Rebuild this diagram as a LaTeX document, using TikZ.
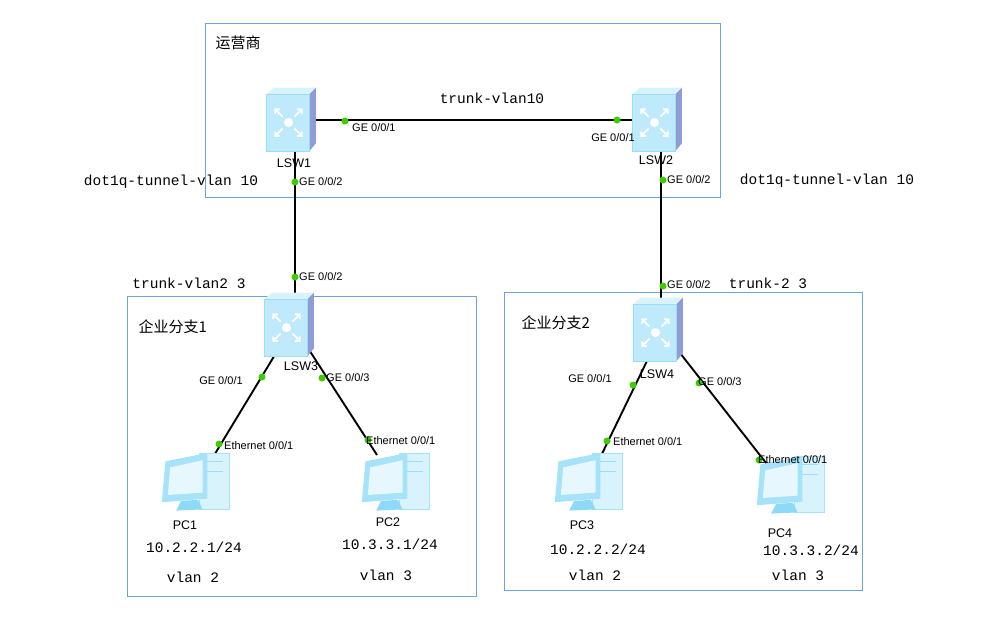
\documentclass[tikz,border=0pt]{standalone}
\usepackage{fontspec}
\setmainfont{Liberation Sans}
\newfontfamily\monof{Liberation Mono}
\newfontfamily\cjk{Noto Sans CJK SC}
\begin{document}
\begin{tikzpicture}[x=1pt,y=-1pt,
  box/.style={draw=cyan!60!blue!60, line width=0.8pt},
  link/.style={line width=1.9pt, black},
  dot/.style={circle, fill=green!60!lime!80!black, inner sep=0pt, minimum size=7pt},
  port/.style={font=\fontsize{11}{12}\selectfont, inner sep=1pt},
  mono/.style={font=\monof\fontsize{14.5}{16}\selectfont, inner sep=1pt},
  dev/.style={font=\fontsize{12.5}{14}\selectfont, inner sep=1pt},
  title/.style={font=\cjk\fontsize{15}{17}\selectfont, anchor=west}]
\useasboundingbox (0,0) rectangle (991,622);
\tikzset{
 sw/.pic={
  \fill[cyan!30!blue!45] (11,-20) -- (16,-25) -- (16,18) -- (11,24) -- cycle;
  \fill[cyan!15] (-22,-20) -- (-16,-25) -- (16,-25) -- (11,-20) -- cycle;
  \fill[cyan!25, draw=cyan!40] (-22,-20) rectangle (11,24);
  \fill[white] (-5,2) circle (3.5);
  \foreach \a in {45,135,225,315}{\draw[white, line width=1.8pt, rotate around={\a:(-5,2)}] (-5,-4.5) -- (-5,-12) (-7.5,-10) -- (-5,-12.5) -- (-2.5,-10);}
 },
 pc/.pic={
  \fill[cyan!15, draw=cyan!35] (5,-25) rectangle (30,22);
  \draw[cyan!40] (10,-18) -- (25,-18) (10,-10) -- (25,-10);
  \fill[cyan!35] (-23,-18) -- (12,-25) -- (12,13) -- (-26,16) -- cycle;
  \fill[cyan!10] (-19,-13) -- (8,-19) -- (8,8) -- (-21,10) -- cycle;
  \fill[cyan!45] (-10,15) -- (4,14) -- (8,22) -- (-14,23) -- cycle;
 }}
% boxes
\draw[box] (205,23) rectangle (720,197);
\draw[box] (127,296) rectangle (476,596);
\draw[box] (504,292) rectangle (862,590);
\node[title] (t1) at (212,43) {运营商};
\node[title] (t2) at (135,327) {企业分支1};
\node[title] (t3) at (518,323) {企业分支2};
% devices
\coordinate (s1) at (295,120); \coordinate (s2) at (661,120);
\coordinate (s3) at (293,325); \coordinate (s4) at (662,330);
\coordinate (p1) at (193,483); \coordinate (p2) at (393,483);
\coordinate (p3) at (586,483); \coordinate (p4) at (788,486);
% links
\draw[link] (s1) -- (s2);
\draw[link] (s1) -- (s1 |- s3);
\draw[link] (s2) -- (s2 |- s4);
\draw[link] (s3) -- (210,462);
\draw[link] (s3) -- (377,455);
\draw[link] (s4) -- (598,462);
\draw[link] (s4) -- (770,468);
\pic[scale=1.3] at (s1) {sw}; \pic[scale=1.3] at (s2) {sw}; \pic[scale=1.3] at (s3) {sw}; \pic[scale=1.3] at (s4) {sw};
\pic[scale=1.2] at (p1) {pc}; \pic[scale=1.2] at (p2) {pc}; \pic[scale=1.2] at (p3) {pc}; \pic[scale=1.2] at (p4) {pc};
% dots & port labels
\node[dot] (d1) at (345,121) {}; \node[port,anchor=west] at (351,128) {GE 0/0/1};
\node[dot] (d2) at (617,120) {}; \node[port] at (613,138) {GE 0/0/1};
\node[dot] (d3) at (295,182) {}; \node[port,anchor=west] at (298,182) {GE 0/0/2};
\node[dot] (d4) at (295,277) {}; \node[port,anchor=west] at (298,277) {GE 0/0/2};
\node[dot] (d5) at (663,180) {}; \node[port,anchor=west] at (666,180) {GE 0/0/2};
\node[dot] (d6) at (663,286) {}; \node[port,anchor=west] at (666,285) {GE 0/0/2};
\node[dot] (d7) at (262,377) {}; \node[port] at (221,381) {GE 0/0/1};
\node[dot] (d8) at (322,378) {}; \node[port,anchor=west] at (325,378) {GE 0/0/3};
\node[dot] (d9) at (219,444) {}; \node[port,anchor=west] at (223,446) {Ethernet 0/0/1};
\node[dot] (d10) at (368,440) {}; \node[port,anchor=west] at (365,441) {Ethernet 0/0/1};
\node[dot] (d11) at (633,385) {}; \node[port] at (590,379) {GE 0/0/1};
\node[dot] (d12) at (699,383) {}; \node[port,anchor=west] at (697,382) {GE 0/0/3};
\node[dot] (d13) at (607,441) {}; \node[port,anchor=west] at (612,442) {Ethernet 0/0/1};
\node[dot] (d14) at (759,460) {}; \node[port,anchor=west] at (757,460) {Ethernet 0/0/1};
% device names
\node[dev] at (294,163) {LSW1};
\node[dev] at (656,160) {LSW2};
\node[dev] at (301,366) {LSW3};
\node[dev] at (657,374) {LSW4};
\node[dev] at (185,525) {PC1};
\node[dev] at (388,522) {PC2};
\node[dev] at (582,525) {PC3};
\node[dev] at (780,533) {PC4};
% mono texts
\node[mono] at (492,98) {trunk-vlan10};
\node[mono] at (171,182) {dot1q-tunnel-vlan 10};
\node[mono] at (827,181) {dot1q-tunnel-vlan 10};
\node[mono] at (189,283) {trunk-vlan2 3};
\node[mono] at (768,283) {trunk-2 3};
\node[mono] at (194,547) {10.2.2.1/24};
\node[mono] at (390,544) {10.3.3.1/24};
\node[mono] at (598,549) {10.2.2.2/24};
\node[mono] at (811,550) {10.3.3.2/24};
\node[mono] at (193,577) {vlan 2};
\node[mono] at (386,575) {vlan 3};
\node[mono] at (595,575) {vlan 2};
\node[mono] at (798,575) {vlan 3};
\end{tikzpicture}
\end{document}
